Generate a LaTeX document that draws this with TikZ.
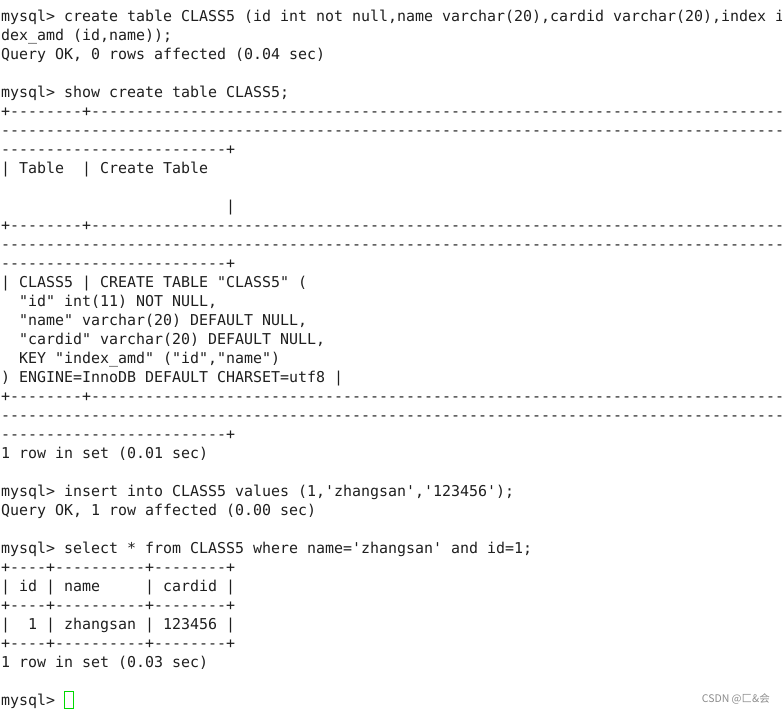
\documentclass[tikz,border=0pt]{standalone}
\usepackage{fontspec}
\setmonofont{DejaVu Sans Mono}
\newfontfamily\cjk{Noto Sans CJK SC}
\def\tdash{----------}
\def\full{\tdash\tdash\tdash\tdash\tdash\tdash\tdash\tdash\tdash}
\begin{document}
\begin{tikzpicture}[x=1pt,y=-1pt,
  ln/.style={anchor=base west, inner sep=0pt, font=\ttfamily\fontsize{14.95}{19}\selectfont, text=black!88},
  wmark/.style={anchor=base east, inner sep=0pt, font=\cjk\fontsize{10.5}{12}\selectfont, text=black!45}]
\useasboundingbox (0,0) rectangle (782,712);
\clip (0,0) rectangle (782,712);
\fill[white] (0,0) rectangle (782,712);
\newcommand\TL[3]{\node[ln] (#1) at (1,{2+19*#2}) {#3};}
\TL{l1}{1}{mysql> create table CLASS5 (id int not null,name varchar(20),cardid varchar(20),index i}
\TL{l2}{2}{dex\_amd (id,name));}
\TL{l3}{3}{Query OK, 0 rows affected (0.04 sec)}
\TL{l5}{5}{mysql> show create table CLASS5;}
\TL{l6}{6}{+--------+\full}
\TL{l7}{7}{\full}
\TL{l8}{8}{-------------------------+}
\TL{l9}{9}{| Table ~| Create Table}
\node[ln] (l11) at (226,{2+19*11}) {|};
\TL{l12}{12}{+--------+\full}
\TL{l13}{13}{\full}
\TL{l14}{14}{-------------------------+}
\TL{l15}{15}{| CLASS5 | CREATE TABLE "CLASS5" (}
\TL{l16}{16}{~~"id" int(11) NOT NULL,}
\TL{l17}{17}{~~"name" varchar(20) DEFAULT NULL,}
\TL{l18}{18}{~~"cardid" varchar(20) DEFAULT NULL,}
\TL{l19}{19}{~~KEY "index\_amd" ("id","name")}
\TL{l20}{20}{) ENGINE=InnoDB DEFAULT CHARSET=utf8 |}
\TL{l21}{21}{+--------+\full}
\TL{l22}{22}{\full}
\TL{l23}{23}{-------------------------+}
\TL{l24}{24}{1 row in set (0.01 sec)}
\TL{l26}{26}{mysql> insert into CLASS5 values (1,'zhangsan','123456');}
\TL{l27}{27}{Query OK, 1 row affected (0.00 sec)}
\TL{l29}{29}{mysql> select * from CLASS5 where name='zhangsan' and id=1;}
\TL{l30}{30}{+----+----------+--------+}
\TL{l31}{31}{| id | name ~~~~| cardid |}
\TL{l32}{32}{+----+----------+--------+}
\TL{l33}{33}{| ~1 | zhangsan | 123456 |}
\TL{l34}{34}{+----+----------+--------+}
\TL{l35}{35}{1 row in set (0.03 sec)}
\TL{l37}{37}{mysql>}
\node[draw=green!85!black, line width=0.9pt, minimum width=9pt, minimum height=17pt, inner sep=0pt, anchor=north west] (cur) at (63.5,691) {};
\node[wmark] (wm) at (770,702) {CSDN @匚\&会};
\end{tikzpicture}
\end{document}
